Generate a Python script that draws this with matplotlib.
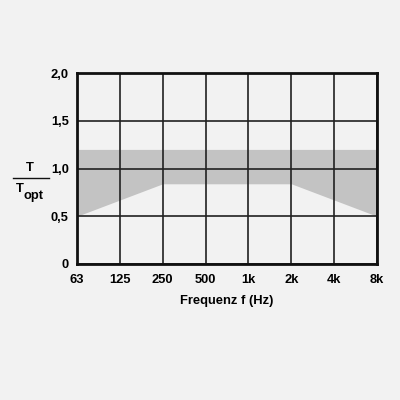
import matplotlib.pyplot as plt
import numpy as np

# Frequenzbänder (Oktaven) und Toleranzbereich T/Topt
freq_labels = ['63', '125', '250', '500', '1k', '2k', '4k', '8k']
upper = [1.2, 1.2, 1.2, 1.2, 1.2, 1.2, 1.2, 1.2]
lower = [0.5, 0.67, 0.84, 0.84, 0.84, 0.84, 0.67, 0.5]
y_ticks = [0, 0.5, 1.0, 1.5, 2.0]
y_labels = ['0', '0,5', '1,0', '1,5', '2,0']

bg = '#f2f2f2'
fs = 9.3
plt.rcParams['font.family'] = ['Liberation Sans', 'DejaVu Sans']
plt.rcParams['font.weight'] = 'bold'

fig = plt.figure(figsize=(4, 4), dpi=100, facecolor=bg)
ax = fig.add_axes([77/400, 1-264/400, 300/400, (264-73)/400])
ax.set_facecolor(bg)

x = np.arange(len(freq_labels))
ax.fill_between(x, lower, upper, color='#c3c3c3', linewidth=0, zorder=1)

for xi in x:
    ax.axvline(xi, color='#222222', linewidth=1.2, zorder=2)
for yi in y_ticks:
    ax.axhline(yi, color='#222222', linewidth=1.2, zorder=2)

ax.set_xlim(0, len(freq_labels) - 1)
ax.set_ylim(0, 2)
ax.set_xticks(x)
ax.set_xticklabels(freq_labels, fontsize=fs, fontweight='bold')
ax.set_yticks(y_ticks)
ax.set_yticklabels(y_labels, fontsize=fs, fontweight='bold')
ax.tick_params(axis='x', length=0, pad=7)
ax.tick_params(axis='y', length=0, pad=6)
for s in ax.spines.values():
    s.set_linewidth(2)
    s.set_color('#111111')
    s.set_zorder(3)

ax.set_xlabel('Frequenz f (Hz)', fontsize=fs, fontweight='bold', labelpad=7)

# Achsenbeschriftung als Bruch T / Topt
fig.text(30/400, 1-168/400, 'T', ha='center', va='center', fontsize=fs, fontweight='bold')
fig.add_artist(plt.Line2D([13/400, 49/400], [1-178/400, 1-178/400], color='#111111', linewidth=1))
fig.text(20/400, 1-189/400, 'T', ha='center', va='center', fontsize=fs, fontweight='bold')
fig.text(24/400, 1-196/400, 'opt', ha='left', va='center', fontsize=fs, fontweight='bold')

fig.savefig('out.png', dpi=100, facecolor=bg)
